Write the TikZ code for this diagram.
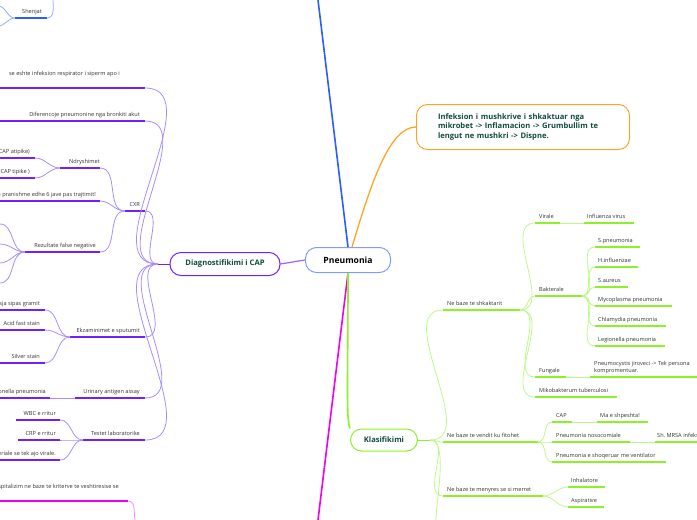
\documentclass[tikz,border=0pt]{standalone}
\usepackage{fontspec}
\setmainfont{Open Sans}
\definecolor{pur}{HTML}{7020FF}
\definecolor{purl}{HTML}{A88CFF}
\definecolor{grn}{HTML}{8CF02A}
\definecolor{grnl}{HTML}{BDF88A}
\definecolor{mag}{HTML}{F000F0}
\definecolor{blu}{HTML}{2A5CFF}
\definecolor{org}{HTML}{FFA428}
\definecolor{ttl}{HTML}{0E4A3C}
\tikzset{lbl/.style={font=\fontsize{5.6}{6.8}\selectfont, text=black!80, inner sep=0pt},
 conn/.style={line width=0.8},
 ttlbox/.style={draw, rounded corners=11, line width=1, font=\bfseries\fontsize{7.6}{9.5}\selectfont, text=ttl, align=left}}
\newcommand\lfR[7]{\coordinate (#1-l) at (#2,#4); \coordinate (#1-r) at (#3,#4);
 \draw[#5, line width=1.6] (#1-l) -- (#1-r);
 \node[lbl, anchor=base west, align=left] (#1) at (#7,#4-5) {#6};}
\newcommand\lfL[7]{\coordinate (#1-l) at (#2,#4); \coordinate (#1-r) at (#3,#4);
 \draw[#5, line width=1.6] (#1-l) -- (#1-r);
 \node[lbl, anchor=base east] (#1) at (#7,#4-5) {#6};}
\begin{document}
\begin{tikzpicture}[x=1pt,y=-1pt]
\useasboundingbox (0,0) rectangle (697,520);
\clip (0,0) rectangle (697,520);
% centre
\node[draw=blu!60, line width=1, rounded corners=11, minimum width=85, minimum height=25, font=\bfseries\fontsize{8.6}{10}\selectfont] (P) at (348,260) {Pneumonia};
\coordinate (topb) at (318,0);
\draw[blu, line width=1.6] (P.north) -- (topb);
\coordinate (botm) at (318,520);
\draw[mag, line width=1.6] (P.south) -- (botm);
% definition
\node[ttlbox, draw=org, minimum width=213, minimum height=45, text width=170, inner xsep=20] (D) at (523,127) {Infeksion i mushkrive i shkaktuar nga mikrobet -> Inflamacion -> Grumbullim te lengut ne mushkri -> Dispne.};
\draw[org, line width=1.3] (P.north) ++(4,0) .. controls (372,180) and (390,127) .. (D.west);
% Klasifikimi
\node[ttlbox, draw=grn, minimum width=67, minimum height=22, align=center] (K) at (384,440) {Klasifikimi};
\draw[grn, line width=1.6] (P.south) .. controls (348,380) and (346,420) .. (K.north west);
% Diagnostifikimi
\node[ttlbox, draw=pur, minimum width=110, minimum height=23, align=center] (G) at (225,264) {Diagnostifikimi i CAP};
\draw[pur!70, line width=1.2] (P.west) -- (G.east);
% ---------- green side
\coordinate (Kr) at (430,440);
\draw[grn, conn] (K.east) -- (Kr);
\lfR{s1}{443}{520}{310}{grn}{Ne baze te shkaktarit}{447}
\lfR{s2}{443}{538}{442}{grn}{Ne baze te vendit ku fitohet}{447}
\lfR{s3}{443}{543}{496}{grn}{Ne baze te menyres se si merret}{447}
\coordinate (s4) at (436,520);
\foreach \t in {s1-l,s2-l,s3-l} \draw[grnl,conn] (Kr) to[out=0,in=180] (\t);
\draw[grnl,conn] (Kr) to[out=0,in=90,looseness=0.6] (s4);
\lfR{vi}{535}{560}{223}{grn}{Virale}{539}
\lfR{iv}{584}{634}{223}{grn}{Influenza virus}{587}
\lfR{ba}{535}{582}{296}{grn}{Bakterale}{539}
\lfR{fu}{535}{566}{377}{grn}{Fungale}{539}
\lfR{pj}{590}{697}{377}{grn}{Pneumocystis jiroveci -> Tek persona\\kompromentuar.}{594}
\lfR{mt}{535}{617}{397}{grn}{Mikobakterum tuberculosi}{539}
\foreach \t in {vi,ba,fu,mt} \draw[grnl,conn] (s1-r) to[out=0,in=180] (\t-l);
\draw[grnl,conn] (vi-r) -- (iv-l);
\draw[grnl,conn] (fu-r) -- (pj-l);
\lfR{b1}{595}{640}{247}{grn}{S.pneumonia}{598}
\lfR{b2}{595}{638}{267}{grn}{H.influenzae}{598}
\lfR{b3}{595}{628}{287}{grn}{S.aureus}{598}
\lfR{b4}{595}{672}{306}{grn}{Mycoplasma pneumonia}{598}
\lfR{b5}{595}{666}{326}{grn}{Chlamydia pneumonia}{598}
\lfR{b6}{595}{665}{346}{grn}{Legionella pneumonia}{598}
\foreach \t in {b1,b2,b3,b4,b5,b6} \draw[grnl,conn] (ba-r) to[out=0,in=180] (\t-l);
\lfR{c1}{552}{572}{422}{grn}{CAP}{556}
\lfR{c1b}{597}{648}{422}{grn}{Ma e shpeshta!}{600}
\lfR{c2}{552}{630}{442}{grn}{Pneumonia nosocomiale}{556}
\lfR{c2b}{655}{697}{442}{grn}{Sh.\ MRSA infeksion}{657}
\lfR{c3}{552}{666}{462}{grn}{Pneumonia e shoqeruar me ventilator}{556}
\foreach \t in {c1,c2,c3} \draw[grnl,conn] (s2-r) to[out=0,in=180] (\t-l);
\draw[grnl,conn] (c1-r) -- (c1b-l);
\draw[grnl,conn] (c2-r) -- (c2b-l);
\lfR{m1}{568}{605}{487}{grn}{Inhalatore}{571}
\lfR{m2}{568}{604}{507}{grn}{Aspirative}{571}
\foreach \t in {m1,m2} \draw[grnl,conn] (s3-r) to[out=0,in=180] (\t-l);
% ---------- purple side
\coordinate (Gl) at (158,264);
\draw[pur, conn] (G.west) -- (Gl);
\lfL{d1}{-5}{145}{88}{pur}{}{117}
\node[lbl, anchor=base east] (d1t) at (120,75) {se eshte infeksion respirator i siperm apo i};
\lfL{d2}{-5}{145}{121}{pur}{Diferencoje pneumonine nga bronkiti akut}{140}
\lfL{cx}{125}{145}{211}{pur}{CXR}{140}
\lfL{ek}{70}{145}{337}{pur}{Ekzaminimet e sputumit}{140}
\lfL{ua}{75}{145}{398}{pur}{Urinary antigen assay}{140}
\lfL{tl}{83}{145}{440}{pur}{Testet laboratorike}{140}
\foreach \t in {d1,d2,cx,ek,ua,tl} \draw[purl,conn] (\t-r) to[out=0,in=180] (Gl);
\lfL{nd}{60}{100}{168}{pur}{Ndryshimet}{100}
\lfL{rr}{-5}{100}{201}{pur}{ato jane te pranishme edhe 6 jave pas trajtimit!}{96}
\lfL{rf}{25}{100}{252}{pur}{Rezultate false negative}{96}
\foreach \t in {nd,rr,rf} \draw[purl,conn] (\t-r) to[out=0,in=180] (cx-l);
\lfL{n1}{-5}{35}{158}{pur}{(CAP atipike)}{30}
\lfL{n2}{-5}{35}{178}{pur}{(CAP tipike )}{30}
\foreach \t in {n1,n2} \draw[purl,conn] (\t-r) to[out=0,in=180] (nd-l);
\foreach \yy/\nn in {224/f1,244/f2,263/f3,283/f4}{
 \coordinate (\nn) at (0,\yy);
 \draw[purl,conn] (\nn) to[out=0,in=180] (rf-l);
 \draw[pur,line width=1.6] (-5,\yy) -- (\nn);}
\lfL{e1}{-5}{45}{310}{pur}{Ngjyrosja sipas gramit}{40}
\lfL{e2}{-5}{45}{330}{pur}{Acid fast stain}{40}
\lfL{e3}{-5}{45}{363}{pur}{Silver stain}{40}
\foreach \t in {e1,e2,e3} \draw[purl,conn] (\t-r) to[out=0,in=180] (ek-l);
\lfL{u1}{-5}{50}{398}{pur}{Legionella pneumonia}{46}
\draw[purl,conn] (u1-r) -- (ua-l);
\lfL{t1}{16}{60}{420}{pur}{WBC e rritur}{56}
\lfL{t2}{18}{60}{440}{pur}{CRP e rritur}{56}
\lfL{t3}{-5}{60}{460}{pur}{me e larte tek infeksionet bakteriale se tek ajo virale.}{56}
\foreach \t in {t1,t2,t3} \draw[purl,conn] (\t-r) to[out=0,in=180] (tl-l);
% ---------- magenta
\lfL{mg}{-5}{128}{501}{mag}{}{119}
\node[lbl, anchor=base east] (mgt) at (119,488) {Stratifikimi i pacientit: Hospitalizim ne baze te kriterve te veshtiresise se};
\coordinate (mgd) at (135,520);
\draw[mag!45,conn] (mg-r) to[out=0,in=100] (mgd);
% ---------- blue top-left
\lfL{sh}{15}{47}{18}{blu}{Shenjat}{42}
\coordinate (sht) at (53,-2);
\coordinate (sha) at (-2,6);
\coordinate (shb) at (-2,26);
\draw[blu!50,conn] (sh-r) to[out=0,in=-90] (sht);
\draw[blu!50,conn] (sha) to[out=0,in=180] (sh-l);
\draw[blu!50,conn] (shb) to[out=0,in=180] (sh-l);
\end{tikzpicture}
\end{document}
